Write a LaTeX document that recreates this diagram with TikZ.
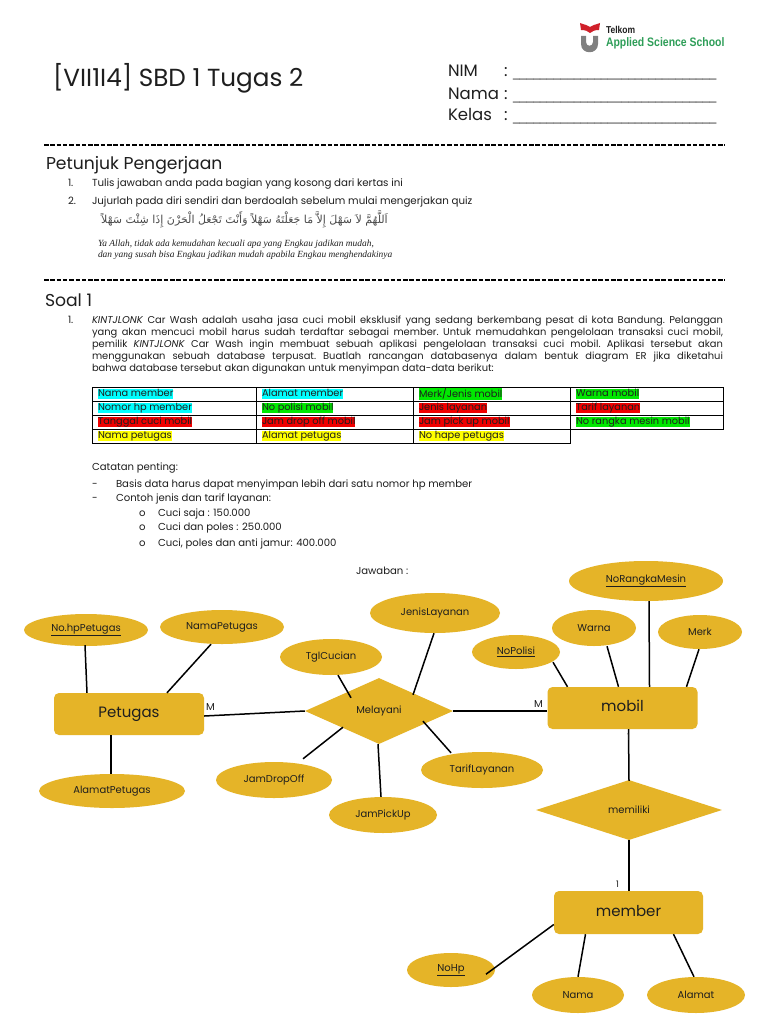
\documentclass[tikz,border=0pt]{standalone}
\usepackage{fontspec}
\usetikzlibrary{shapes.geometric,calc}
\setmainfont{Poppins}
\newfontfamily\arabicfont[Script=Arabic]{DejaVu Sans}
\newfontfamily\itfont{Liberation Serif Italic}
\newfontfamily\usfont{Liberation Sans}
\newfontfamily\logofont[FakeStretch=0.85]{Liberation Sans Bold}
\TeXXeTstate=1
\definecolor{gold}{HTML}{E5B428}
\definecolor{ink}{HTML}{1E1E1E}
\definecolor{hlgreen}{HTML}{00E800}
\definecolor{hlcyan}{HTML}{00FFFF}
\definecolor{hlred}{HTML}{F00000}
\definecolor{hlyellow}{HTML}{FFFF00}
\definecolor{logogreen}{HTML}{2E9E58}
\definecolor{logored}{HTML}{D0202A}
\newcommand{\jl}[1]{\hbox to 631pt{\spaceskip=0.28em plus 10em minus 0.1em\xspaceskip=\spaceskip #1}}
\tikzset{
  txt/.style={anchor=base west,inner sep=0pt,outer sep=0pt,text=ink,font=\fontsize{10.1}{12}\selectfont},
  hd/.style={txt,font=\fontsize{17.2}{20}\selectfont},
  ent/.style={draw=none,fill=gold,rounded corners=5pt,minimum width=150pt,minimum height=42pt,inner sep=0pt,font=\fontsize{15}{16}\selectfont,text=ink},
  attr/.style={ellipse,fill=gold,inner sep=0pt,text=ink,font=\fontsize{10}{12}\selectfont},
  rel/.style={diamond,fill=gold,inner sep=0pt,aspect=1,text=ink,font=\fontsize{10}{12}\selectfont},
  lnk/.style={draw=black,line width=1.5pt},
  sep/.style={draw=black,line width=1.3pt,dash pattern=on 4.5pt off 1.8pt},
  cell/.style={draw=black,line width=0.8pt,anchor=north west,inner sep=0pt,outer sep=0pt,minimum height=14pt},
}
\newcommand{\at}[6]{\node[attr,minimum width=#4pt,minimum height=#5pt] (#1) at (#2,#3) {#6};}
\begin{document}
\begin{tikzpicture}[x=1pt,y=-1pt]
\useasboundingbox (0,0) rectangle (768,1024);
\fill[white] (0,0) rectangle (768,1024);
% logo
\fill[logored] (580,23) .. controls (585,25) and (588,25) .. (590,27) .. controls (592,25) and (595,25) .. (600,23) -- (599,30) .. controls (595,30) and (592,31) .. (590,33) .. controls (588,31) and (585,30) .. (581,30) -- cycle;
\fill[gray] (581,36) -- (581,44) .. controls (581,55) and (598,55) .. (598,44) -- (598,36) -- (593,36) -- (593,42) .. controls (593,47) and (586,47) .. (586,42) -- (586,36) -- cycle;
\node[txt,font=\logofont\fontsize{10}{11}\selectfont] (lt) at (606,34) {Telkom};
\node[txt,font=\logofont\fontsize{12.3}{12}\selectfont,text=logogreen] (la) at (606,47) {Applied Science School};
% header
\node[txt,font=\fontsize{24.7}{27}\selectfont] (title) at (53,87) {[VII1I4] SBD 1 Tugas 2};
\foreach \n/\t/\y in {a/NIM/77,b/Nama/100,c/Kelas/121}{
  \node[txt,font=\fontsize{16.5}{18}\selectfont] (f\n) at (448,\y) {\t};
  \node[txt,font=\fontsize{16.5}{18}\selectfont] (c\n) at (504,\y) {:};
  \node[txt,font=\usfont\fontsize{12.2}{14}\selectfont] (u\n) at (513,\y+1) {\_\_\_\_\_\_\_\_\_\_\_\_\_\_\_\_\_\_\_\_\_\_\_\_\_\_\_\_\_\_};
}
\coordinate (s1a) at (44,145); \coordinate (s1b) at (725,145);
\draw[sep] (s1a) -- (s1b);
\node[hd] (h1) at (46,170) {Petunjuk Pengerjaan};
\node[txt] (n1) at (68,187) {1.};
\node[txt,font=\fontsize{10.25}{12}\selectfont] (t1) at (92,187) {Tulis jawaban anda pada bagian yang kosong dari kertas ini};
\node[txt] (n2) at (68,205) {2.};
\node[txt,font=\fontsize{10.25}{12}\selectfont] (t2) at (92,205) {Jujurlah pada diri sendiri dan berdoalah sebelum mulai mengerjakan quiz};
\node[anchor=base east,inner sep=0pt,text=ink!80,font=\arabicfont\fontsize{11}{14}\selectfont] (ar) at (388,224) {\beginR اَللَّهُمَّ لاَ سَهْلَ إِلاَّ مَا جَعَلْتَهُ سَهْلاً وَأَنْتَ تَجْعَلُ الْحَزْنَ إِذَا شِئْتَ سَهْلاً\endR};
\node[txt,font=\itfont\fontsize{9.4}{11}\selectfont] (y1) at (98,246) {Ya Allah, tidak ada kemudahan kecuali apa yang Engkau jadikan mudah,};
\node[txt,font=\itfont\fontsize{9.4}{11}\selectfont] (y2) at (98,258) {dan yang susah bisa Engkau jadikan mudah apabila Engkau menghendakinya};
\coordinate (s2a) at (44,280); \coordinate (s2b) at (725,280);
\draw[sep] (s2a) -- (s2b);
\node[hd] (h2) at (45,306) {Soal 1};
\node[txt] (n3) at (68,323) {1.};
\node[txt,anchor=north west,text width=631pt,align=left,font=\fontsize{9.9}{12}\selectfont] (para) at (92,316) {\baselineskip=14.4pt
\jl{\textit{KINTJLONK} Car Wash adalah usaha jasa cuci mobil eksklusif yang sedang berkembang pesat di kota Bandung. Pelanggan}
\jl{yang akan mencuci mobil harus sudah terdaftar sebagai member. Untuk memudahkan pengelolaan transaksi cuci mobil,}
\jl{pemilik \textit{KINTJLONK} Car Wash ingin membuat sebuah aplikasi pengelolaan transaksi cuci mobil. Aplikasi tersebut akan}
\jl{menggunakan sebuah database terpusat. Buatlah rancangan databasenya dalam bentuk diagram ER jika diketahui}
\jl{bahwa database tersebut akan digunakan untuk menyimpan data-data berikut:\hfill}};
% table
\foreach \i/\x/\w/\y/\c/\t in {
 a/92/164/387/hlcyan/Nama member, b/256/157/387/hlcyan/Alamat member, c/413/157/387/hlgreen/Merk\slash Jenis mobil, d/570/153/387/hlgreen/Warna mobil,
 e/92/164/401/hlcyan/Nomor hp member, f/256/157/401/hlgreen/No polisi mobil, g/413/157/401/hlred/Jenis layanan, h/570/153/401/hlred/Tarif layanan,
 i/92/164/415/hlred/Tanggal cuci mobil, j/256/157/415/hlred/Jam drop off mobil, k/413/157/415/hlred/Jam pick up mobil, l/570/153/415/hlgreen/No rangka mesin mobil,
 m/92/164/429/hlyellow/Nama petugas, n/256/157/429/hlyellow/Alamat petugas, o/413/157/429/hlyellow/No hape petugas}{
  \node[cell,minimum width=\w pt] (cell\i) at (\x,\y) {};
  \node[txt,anchor=west,font=\fontsize{9.8}{11}\selectfont] (ct\i) at ($(cell\i.west)+(6,0)$) {{\setlength{\fboxsep}{0pt}\colorbox{\c}{\vphantom{Ag}\t}}};
}
\node[txt] (cat) at (92,470) {Catatan penting:};
\node[txt] (d1) at (92,487) {-};
\node[txt] (b1) at (116,487) {Basis data harus dapat menyimpan lebih dari satu nomor hp member};
\node[txt] (d2) at (92,501) {-};
\node[txt] (b2) at (116,501) {Contoh jenis dan tarif layanan:};
\node[txt] (o1) at (139,516) {o};
\node[txt] (e1) at (158,516) {Cuci saja : 150.000};
\node[txt] (o2) at (139,530) {o};
\node[txt] (e2) at (158,530) {Cuci dan poles : 250.000};
\node[txt] (o3) at (139,546) {o};
\node[txt] (e3) at (158,546) {Cuci, poles dan anti jamur: 400.000};
\node[txt] (jaw) at (356,574) {Jawaban :};
% ER
\node[ent] (petugas) at (129,714) {\raisebox{4pt}{Petugas}};
\node[ent] (mobil) at (622.5,708) {\raisebox{4pt}{mobil}};
\node[ent,minimum height=43pt,minimum width=149pt] (member) at (628.5,912.5) {\raisebox{4pt}{member}};
\node[rel,minimum width=148pt,minimum height=66pt,aspect=2.24] (melayani) at (379,711) {Melayani};
\node[rel,minimum width=186pt,minimum height=60pt,aspect=3.1] (memiliki) at (629,810) {memiliki};
\at{nohpp}{86}{630}{124}{32}{\underline{No.hpPetugas}}
\at{namap}{222}{627}{124}{34}{NamaPetugas}
\at{alamatp}{112}{791}{146}{34}{AlamatPetugas}
\at{tgl}{331}{657}{102}{36}{TglCucian}
\at{jenis}{435}{613}{130}{40}{JenisLayanan}
\at{drop}{274}{780}{116}{36}{JamDropOff}
\at{pick}{383}{815}{108}{36}{JamPickUp}
\at{tarif}{482}{770}{122}{36}{TarifLayanan}
\at{nopol}{516}{652}{88}{34}{\underline{NoPolisi}}
\at{warna}{594}{628}{84}{36}{Warna}
\at{merk}{700}{632}{84}{34}{Merk}
\at{rangka}{646}{581}{154}{40}{\underline{NoRangkaMesin}}
\at{nohp}{451}{970}{88}{34}{\underline{NoHp}}
\at{nama}{578}{995}{92}{36}{Nama}
\at{alamat}{696}{995}{98}{36}{Alamat}
\draw[lnk] ([xshift=-1pt,yshift=1pt]nohpp.south) -- ([xshift=-42pt]petugas.north);
\draw[lnk] ([xshift=-11pt]namap.south) -- ([xshift=38pt]petugas.north);
\draw[lnk] ([xshift=-18pt]petugas.south) -- ([xshift=-1pt]alamatp.north);
\draw[lnk] ([yshift=-2pt]petugas.east) -- (melayani.west);
\draw[lnk] ([xshift=7pt]tgl.south) -- ([xshift=-28pt,yshift=-20pt]melayani.north);
\draw[lnk] ([xshift=-1pt]jenis.south) -- ([xshift=34pt,yshift=-17pt]melayani.north);
\draw[lnk] ([xshift=29pt,yshift=3pt]drop.north) -- ([xshift=-36pt,yshift=17pt]melayani.south);
\draw[lnk] ([xshift=-2pt]pick.north) -- ([xshift=-1pt]melayani.south);
\draw[lnk] ([xshift=-31pt,yshift=-1pt]tarif.north) -- ([xshift=44pt,yshift=23pt]melayani.south);
\draw[lnk] (melayani.east) -- ([yshift=-3pt]mobil.west);
\draw[lnk] ([xshift=37pt,yshift=7pt]nopol.south) -- ([xshift=-55pt]mobil.north);
\draw[lnk] ([xshift=13pt]warna.south) -- ([xshift=-4pt]mobil.north);
\draw[lnk] ([xshift=3pt]rangka.south) -- ([xshift=27pt]mobil.north);
\draw[lnk] ([xshift=-1pt]merk.south) -- ([xshift=64pt]mobil.north);
\draw[lnk] ([xshift=6pt]mobil.south) -- ([yshift=-1pt]memiliki.north);
\draw[lnk] (memiliki.south) -- ([xshift=0.5pt]member.north);
\draw[lnk] ([yshift=-12pt]member.west) -- ([xshift=35pt,yshift=13pt]nohp.south);
\draw[lnk] ([xshift=-43pt]member.south) -- ([xshift=0pt]nama.north);
\draw[lnk] ([xshift=45pt]member.south) -- ([xshift=-2pt]alamat.north);
\node[txt] (m1) at (206,710) {M};
\node[txt] (m2) at (534,707) {M};
\node[txt,font=\fontsize{9}{10}\selectfont] (o1a) at (627,740) {1};
\node[txt,font=\fontsize{9}{10}\selectfont] (o1b) at (616,887) {1};
\end{tikzpicture}
\end{document}
